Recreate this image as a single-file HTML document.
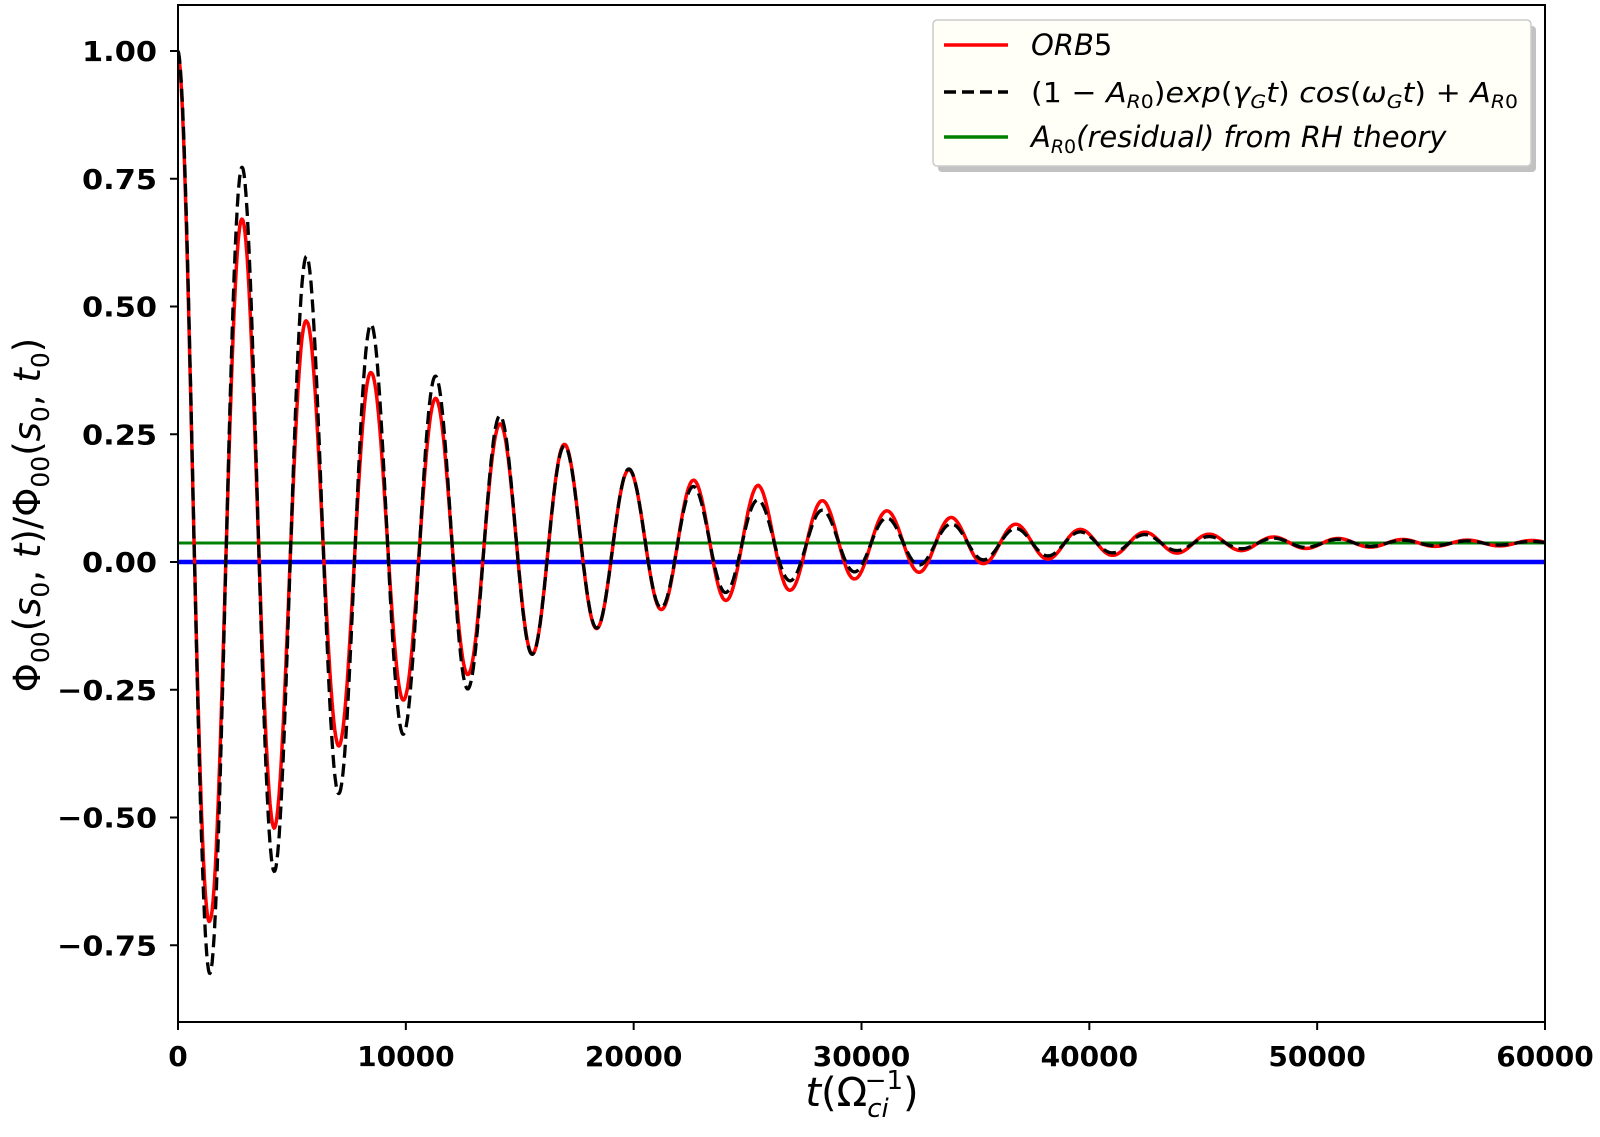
<!DOCTYPE html>
<html><head><meta charset="utf-8"><style>
body{margin:0;background:#fff;}
svg{display:block;font-family:"DejaVu Sans","Liberation Sans",sans-serif;}
.tk{font-size:28px;font-weight:bold;fill:#000;}
</style></head><body>
<svg id="s" width="1600" height="1137" viewBox="0 0 1600 1137">
<defs><clipPath id="c"><rect x="178" y="5" width="1367" height="1017"/></clipPath></defs>
<g clip-path="url(#c)">
<line x1="178" x2="1545" y1="562" y2="562" stroke="#0000ff" stroke-width="4.5"/>
<line x1="178" x2="1545" y1="543" y2="543" stroke="#008000" stroke-width="3"/>
<path id="red" fill="none" stroke="#ff0000" stroke-width="3.5"/>
<path id="blk" fill="none" stroke="#000" stroke-width="3.3" stroke-dasharray="13,6"/>
</g>
<rect x="178" y="5" width="1367" height="1017" fill="none" stroke="#000" stroke-width="2"/>
<g id="ticks"></g>
<g>
<rect x="938" y="26" width="598" height="146" rx="4" fill="#999" opacity="0.6"/>
<rect x="933" y="20" width="598" height="146" rx="4" fill="#fffff8" stroke="#ccc" stroke-width="1.5"/>
<line x1="944" x2="1008" y1="45" y2="45" stroke="#ff0000" stroke-width="3.5"/>
<line x1="944" x2="1008" y1="92" y2="92" stroke="#000" stroke-width="3.5" stroke-dasharray="12,6"/>
<line x1="944" x2="1008" y1="137" y2="137" stroke="#008000" stroke-width="3.5"/>
<text x="1031" y="55" font-size="29" font-style="italic">ORB<tspan font-style="normal">5</tspan></text>
<text x="1031" y="102" font-size="28" textLength="487" lengthAdjust="spacingAndGlyphs">(1 − <tspan font-style="italic">A</tspan><tspan font-style="italic" font-size="19" dy="6">R</tspan><tspan font-size="19">0</tspan><tspan dy="-6">)</tspan><tspan font-style="italic">exp</tspan>(<tspan font-style="italic">γ</tspan><tspan font-style="italic" font-size="19" dy="6">G</tspan><tspan font-style="italic" dy="-6">t</tspan>) <tspan font-style="italic">cos</tspan>(<tspan font-style="italic">ω</tspan><tspan font-style="italic" font-size="19" dy="6">G</tspan><tspan font-style="italic" dy="-6">t</tspan>) + <tspan font-style="italic">A</tspan><tspan font-style="italic" font-size="19" dy="6">R</tspan><tspan font-size="19">0</tspan></text>
<text x="1031" y="147" font-size="29" font-style="italic">A<tspan font-size="19" dy="6">R</tspan><tspan font-size="19" font-style="normal">0</tspan><tspan dy="-6">(residual) from RH theory</tspan></text>
</g>
<text x="862" y="1106" font-size="40" text-anchor="middle"><tspan font-style="italic">t</tspan>(Ω<tspan font-size="26" dy="11" font-style="italic">ci</tspan><tspan font-size="26" dx="-24" dy="-28">−1</tspan><tspan dy="17">)</tspan></text>
<text transform="translate(40,515) rotate(-90)" font-size="37" text-anchor="middle">Φ<tspan font-size="25" dy="9">00</tspan><tspan dy="-9">(</tspan><tspan font-style="italic">s</tspan><tspan font-size="25" dy="9">0</tspan><tspan dy="-9">, </tspan><tspan font-style="italic">t</tspan>)/Φ<tspan font-size="25" dy="9">00</tspan><tspan dy="-9">(</tspan><tspan font-style="italic">s</tspan><tspan font-size="25" dy="9">0</tspan><tspan dy="-9">, </tspan><tspan font-style="italic">t</tspan><tspan font-size="25" dy="9">0</tspan><tspan dy="-9">)</tspan></text>
</svg>
<script>
var X=function(t){return 178+t*1367/60000},Y=function(v){return 562-v*511};
var w=2*Math.PI/2830,g=-9.56e-5,A=0.037;
var env=[[0,.963],[1415,.737],[2830,.633],[4245,.557],[5660,.433],[7075,.397],[8490,.333],[9905,.307],[11320,.283],[12735,.257],[14150,.233],[15565,.217],[16980,.193],[18395,.167],[19810,.143],[21225,.13],[22640,.123],[24055,.112],[25470,.113],[26885,.092],[28300,.083],[29715,.07],[31130,.063],[32545,.057],[33960,.05],[35375,.04],[36790,.037],[39000,.028],[42000,.022],[45000,.018],[48000,.012],[52000,.008],[56000,.006],[60000,.005]];
function E(t){for(var i=1;i<env.length;i++){if(t<=env[i][0]){var a=env[i-1],b=env[i];return a[1]+(b[1]-a[1])*(t-a[0])/(b[0]-a[0]);}}return .005;}
var r="",k="";
for(var t=0;t<=60000;t+=20){
var vb=(1-A)*Math.exp(g*t)*Math.cos(w*t)+A;
var vr=A+E(t)*Math.cos(w*t);
r+=(t?"L":"M")+X(t).toFixed(1)+","+Y(vr).toFixed(1);
k+=(t?"L":"M")+X(t).toFixed(1)+","+Y(vb).toFixed(1);}
document.getElementById("red").setAttribute("d",r);
document.getElementById("blk").setAttribute("d",k);
var s="";
var yl=[[1,"1.00",75],[.75,"0.75",75],[.5,"0.50",75],[.25,"0.25",75],[0,"0.00",75],[-.25,"−0.25",100],[-.5,"−0.50",100],[-.75,"−0.75",100]];
yl.forEach(function(p){var y=Y(p[0]);s+='<line x1="170" x2="178" y1="'+y+'" y2="'+y+'" stroke="#000" stroke-width="2"/><text class="tk" x="157" y="'+(y+10)+'" text-anchor="end" textLength="'+p[2]+'" lengthAdjust="spacingAndGlyphs">'+p[1]+'</text>';});
for(var i=0;i<=6;i++){var x=X(i*10000);var lbl=String(i*10000);var tl=lbl.length>1?' textLength="'+(lbl.length*19.5)+'" lengthAdjust="spacingAndGlyphs"':'';s+='<line x1="'+x+'" x2="'+x+'" y1="1022" y2="1030" stroke="#000" stroke-width="2"/><text class="tk" font-size="28" x="'+x+'" y="1066" text-anchor="middle"'+tl+'>'+lbl+'</text>';}
document.getElementById("ticks").innerHTML=s;
</script>
</body></html>
